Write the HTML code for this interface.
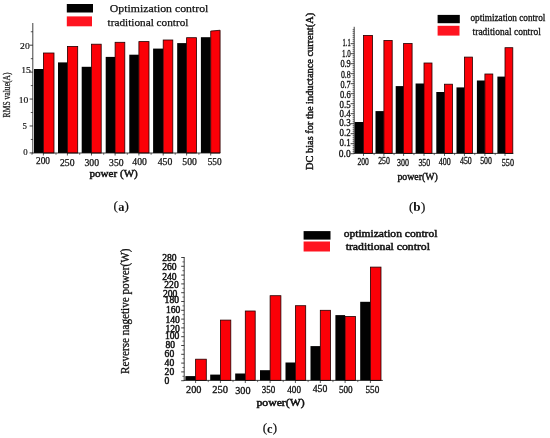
<!DOCTYPE html>
<html><head><meta charset="utf-8"><title>Figure</title>
<style>
html,body{margin:0;padding:0;background:#fff;}
svg{display:block;font-family:"Liberation Serif","DejaVu Serif",serif;}
</style></head><body>
<svg width="550" height="438" viewBox="0 0 550 438">
<rect x="0" y="0" width="550" height="438" fill="#fff"/>
<rect x="34.00" y="69.00" width="9.40" height="84.00" fill="#020202"/>
<rect x="43.40" y="53.00" width="10.60" height="100.00" fill="#fb0007" stroke="#200" stroke-width="0.8"/>
<rect x="58.00" y="62.40" width="9.40" height="90.60" fill="#020202"/>
<rect x="67.40" y="46.40" width="10.30" height="106.60" fill="#fb0007" stroke="#200" stroke-width="0.8"/>
<rect x="81.70" y="66.80" width="9.80" height="86.20" fill="#020202"/>
<rect x="91.50" y="44.20" width="9.70" height="108.80" fill="#fb0007" stroke="#200" stroke-width="0.8"/>
<rect x="105.70" y="56.90" width="9.40" height="96.10" fill="#020202"/>
<rect x="115.10" y="42.30" width="9.70" height="110.70" fill="#fb0007" stroke="#200" stroke-width="0.8"/>
<rect x="129.30" y="54.70" width="9.60" height="98.30" fill="#020202"/>
<rect x="138.90" y="41.60" width="10.10" height="111.40" fill="#fb0007" stroke="#200" stroke-width="0.8"/>
<rect x="153.10" y="48.60" width="10.10" height="104.40" fill="#020202"/>
<rect x="163.20" y="40.00" width="9.60" height="113.00" fill="#fb0007" stroke="#200" stroke-width="0.8"/>
<rect x="177.20" y="43.10" width="9.40" height="109.90" fill="#020202"/>
<rect x="186.60" y="37.70" width="9.90" height="115.30" fill="#fb0007" stroke="#200" stroke-width="0.8"/>
<rect x="200.90" y="37.20" width="9.80" height="115.80" fill="#020202"/>
<polygon points="210.70,31.05 220.10,30.25 220.10,153 210.70,153" fill="#fb0007" stroke="#200" stroke-width="0.8"/>
<line x1="32.80" y1="23.00" x2="32.80" y2="153.40" stroke="#111" stroke-width="0.8"/>
<line x1="32.40" y1="153.00" x2="220.30" y2="153.00" stroke="#111" stroke-width="0.8"/>
<line x1="29.60" y1="152.90" x2="32.80" y2="152.90" stroke="#111" stroke-width="0.8"/>
<text x="27.60" y="155.30" font-size="9" text-anchor="end" fill="#111" stroke="#111" stroke-width="0.18" textLength="4.40" lengthAdjust="spacingAndGlyphs">0</text>
<line x1="30.80" y1="139.44" x2="32.80" y2="139.44" stroke="#111" stroke-width="0.7"/>
<line x1="29.60" y1="125.98" x2="32.80" y2="125.98" stroke="#111" stroke-width="0.8"/>
<text x="26.80" y="129.20" font-size="9" text-anchor="end" fill="#111" stroke="#111" stroke-width="0.18" textLength="4.40" lengthAdjust="spacingAndGlyphs">5</text>
<line x1="30.80" y1="112.51" x2="32.80" y2="112.51" stroke="#111" stroke-width="0.7"/>
<line x1="29.60" y1="99.05" x2="32.80" y2="99.05" stroke="#111" stroke-width="0.8"/>
<text x="28.40" y="102.50" font-size="9" text-anchor="end" fill="#111" stroke="#111" stroke-width="0.18" textLength="9.60" lengthAdjust="spacingAndGlyphs">10</text>
<line x1="30.80" y1="85.59" x2="32.80" y2="85.59" stroke="#111" stroke-width="0.7"/>
<line x1="29.60" y1="72.13" x2="32.80" y2="72.13" stroke="#111" stroke-width="0.8"/>
<text x="30.80" y="73.20" font-size="9" text-anchor="end" fill="#111" stroke="#111" stroke-width="0.18" textLength="9.60" lengthAdjust="spacingAndGlyphs">15</text>
<line x1="30.80" y1="58.66" x2="32.80" y2="58.66" stroke="#111" stroke-width="0.7"/>
<line x1="29.60" y1="45.20" x2="32.80" y2="45.20" stroke="#111" stroke-width="0.8"/>
<text x="29.70" y="48.90" font-size="9" text-anchor="end" fill="#111" stroke="#111" stroke-width="0.18" textLength="9.60" lengthAdjust="spacingAndGlyphs">20</text>
<line x1="30.80" y1="31.74" x2="32.80" y2="31.74" stroke="#111" stroke-width="0.7"/>
<text x="36.00" y="164.20" font-size="9.6" text-anchor="start" fill="#111" stroke="#111" stroke-width="0.25" textLength="14.00" lengthAdjust="spacingAndGlyphs">200</text>
<text x="60.00" y="166.00" font-size="9.6" text-anchor="start" fill="#111" stroke="#111" stroke-width="0.25" textLength="14.50" lengthAdjust="spacingAndGlyphs">250</text>
<text x="84.50" y="165.50" font-size="9.6" text-anchor="start" fill="#111" stroke="#111" stroke-width="0.25" textLength="14.60" lengthAdjust="spacingAndGlyphs">300</text>
<text x="109.10" y="165.60" font-size="9.6" text-anchor="start" fill="#111" stroke="#111" stroke-width="0.25" textLength="14.50" lengthAdjust="spacingAndGlyphs">350</text>
<text x="132.30" y="164.50" font-size="9.6" text-anchor="start" fill="#111" stroke="#111" stroke-width="0.25" textLength="14.50" lengthAdjust="spacingAndGlyphs">400</text>
<text x="157.70" y="164.90" font-size="9.6" text-anchor="start" fill="#111" stroke="#111" stroke-width="0.25" textLength="14.60" lengthAdjust="spacingAndGlyphs">450</text>
<text x="182.30" y="165.10" font-size="9.6" text-anchor="start" fill="#111" stroke="#111" stroke-width="0.25" textLength="14.50" lengthAdjust="spacingAndGlyphs">500</text>
<text x="207.70" y="165.10" font-size="9.6" text-anchor="start" fill="#111" stroke="#111" stroke-width="0.25" textLength="13.90" lengthAdjust="spacingAndGlyphs">550</text>
<line x1="43.40" y1="153.00" x2="43.40" y2="155.50" stroke="#111" stroke-width="0.7"/>
<line x1="32.00" y1="153.00" x2="32.00" y2="154.80" stroke="#111" stroke-width="0.6"/>
<line x1="67.40" y1="153.00" x2="67.40" y2="155.50" stroke="#111" stroke-width="0.7"/>
<line x1="56.00" y1="153.00" x2="56.00" y2="154.80" stroke="#111" stroke-width="0.6"/>
<line x1="91.50" y1="153.00" x2="91.50" y2="155.50" stroke="#111" stroke-width="0.7"/>
<line x1="79.70" y1="153.00" x2="79.70" y2="154.80" stroke="#111" stroke-width="0.6"/>
<line x1="115.10" y1="153.00" x2="115.10" y2="155.50" stroke="#111" stroke-width="0.7"/>
<line x1="103.70" y1="153.00" x2="103.70" y2="154.80" stroke="#111" stroke-width="0.6"/>
<line x1="138.90" y1="153.00" x2="138.90" y2="155.50" stroke="#111" stroke-width="0.7"/>
<line x1="127.30" y1="153.00" x2="127.30" y2="154.80" stroke="#111" stroke-width="0.6"/>
<line x1="163.20" y1="153.00" x2="163.20" y2="155.50" stroke="#111" stroke-width="0.7"/>
<line x1="151.10" y1="153.00" x2="151.10" y2="154.80" stroke="#111" stroke-width="0.6"/>
<line x1="186.60" y1="153.00" x2="186.60" y2="155.50" stroke="#111" stroke-width="0.7"/>
<line x1="175.20" y1="153.00" x2="175.20" y2="154.80" stroke="#111" stroke-width="0.6"/>
<line x1="210.70" y1="153.00" x2="210.70" y2="155.50" stroke="#111" stroke-width="0.7"/>
<line x1="198.90" y1="153.00" x2="198.90" y2="154.80" stroke="#111" stroke-width="0.6"/>
<text x="89.50" y="176.90" font-size="9.8" text-anchor="start" fill="#111" stroke="#111" stroke-width="0.45" textLength="48.30" lengthAdjust="spacingAndGlyphs">power (W)</text>
<text x="9.70" y="117.40" font-size="9.3" text-anchor="start" fill="#222" stroke="#222" stroke-width="0.25" textLength="45.00" lengthAdjust="spacingAndGlyphs" transform="rotate(-90 9.70 117.40)">RMS value(A)</text>
<rect x="66.80" y="4.00" width="26.20" height="8.50" fill="#020202"/>
<rect x="66.80" y="16.40" width="25.20" height="9.90" fill="#ff1420"/>
<text x="109.80" y="12.00" font-size="11.3" text-anchor="start" fill="#111" stroke="#111" stroke-width="0.25" textLength="98.50" lengthAdjust="spacingAndGlyphs">Optimization control</text>
<text x="107.60" y="25.90" font-size="11" text-anchor="start" fill="#111" stroke="#111" stroke-width="0.25" textLength="80.80" lengthAdjust="spacingAndGlyphs">traditional control</text>
<text fill="#111"><tspan x="113.60" y="210.10" font-size="13" stroke="#111" stroke-width="0.2">(</tspan><tspan x="118.30" y="210.60" font-size="12.4" font-weight="bold">a</tspan><tspan x="124.60" y="210.10" font-size="13" stroke="#111" stroke-width="0.2">)</tspan></text>
<rect x="354.70" y="122.00" width="8.80" height="31.40" fill="#020202"/>
<rect x="363.50" y="35.40" width="9.00" height="118.00" fill="#fb0007" stroke="#200" stroke-width="0.8"/>
<rect x="375.50" y="111.10" width="8.40" height="42.30" fill="#020202"/>
<rect x="383.90" y="40.40" width="8.30" height="113.00" fill="#fb0007" stroke="#200" stroke-width="0.8"/>
<rect x="395.70" y="86.10" width="7.90" height="67.30" fill="#020202"/>
<rect x="403.60" y="43.50" width="8.50" height="109.90" fill="#fb0007" stroke="#200" stroke-width="0.8"/>
<rect x="415.60" y="83.50" width="8.40" height="69.90" fill="#020202"/>
<rect x="424.00" y="63.00" width="8.00" height="90.40" fill="#fb0007" stroke="#200" stroke-width="0.8"/>
<rect x="436.30" y="92.00" width="8.20" height="61.40" fill="#020202"/>
<rect x="444.50" y="84.20" width="8.00" height="69.20" fill="#fb0007" stroke="#200" stroke-width="0.8"/>
<rect x="456.50" y="87.40" width="7.90" height="66.00" fill="#020202"/>
<rect x="464.40" y="57.10" width="8.00" height="96.30" fill="#fb0007" stroke="#200" stroke-width="0.8"/>
<rect x="476.90" y="80.50" width="8.00" height="72.90" fill="#020202"/>
<rect x="484.90" y="74.00" width="7.90" height="79.40" fill="#fb0007" stroke="#200" stroke-width="0.8"/>
<rect x="497.40" y="76.60" width="7.60" height="76.80" fill="#020202"/>
<rect x="505.00" y="47.70" width="7.80" height="105.70" fill="#fb0007" stroke="#200" stroke-width="0.8"/>
<line x1="354.20" y1="26.80" x2="354.20" y2="153.80" stroke="#111" stroke-width="0.8"/>
<line x1="353.80" y1="153.40" x2="513.30" y2="153.40" stroke="#111" stroke-width="0.8"/>
<line x1="350.60" y1="153.70" x2="354.20" y2="153.70" stroke="#111" stroke-width="0.8"/>
<text x="350.70" y="156.80" font-size="9.7" text-anchor="end" fill="#111" stroke="#111" stroke-width="0.3" textLength="11.90" lengthAdjust="spacingAndGlyphs">0.0</text>
<line x1="352.60" y1="151.69" x2="354.20" y2="151.69" stroke="#111" stroke-width="0.6"/>
<line x1="352.60" y1="149.69" x2="354.20" y2="149.69" stroke="#111" stroke-width="0.6"/>
<line x1="352.60" y1="147.68" x2="354.20" y2="147.68" stroke="#111" stroke-width="0.6"/>
<line x1="352.60" y1="145.68" x2="354.20" y2="145.68" stroke="#111" stroke-width="0.6"/>
<line x1="350.60" y1="143.70" x2="354.20" y2="143.70" stroke="#111" stroke-width="0.8"/>
<text x="350.70" y="146.40" font-size="9.7" text-anchor="end" fill="#111" stroke="#111" stroke-width="0.3" textLength="11.10" lengthAdjust="spacingAndGlyphs">0.1</text>
<line x1="352.60" y1="141.69" x2="354.20" y2="141.69" stroke="#111" stroke-width="0.6"/>
<line x1="352.60" y1="139.69" x2="354.20" y2="139.69" stroke="#111" stroke-width="0.6"/>
<line x1="352.60" y1="137.68" x2="354.20" y2="137.68" stroke="#111" stroke-width="0.6"/>
<line x1="352.60" y1="135.68" x2="354.20" y2="135.68" stroke="#111" stroke-width="0.6"/>
<line x1="350.60" y1="133.70" x2="354.20" y2="133.70" stroke="#111" stroke-width="0.8"/>
<text x="350.70" y="135.70" font-size="9.7" text-anchor="end" fill="#111" stroke="#111" stroke-width="0.3" textLength="11.10" lengthAdjust="spacingAndGlyphs">0.2</text>
<line x1="352.60" y1="131.69" x2="354.20" y2="131.69" stroke="#111" stroke-width="0.6"/>
<line x1="352.60" y1="129.69" x2="354.20" y2="129.69" stroke="#111" stroke-width="0.6"/>
<line x1="352.60" y1="127.68" x2="354.20" y2="127.68" stroke="#111" stroke-width="0.6"/>
<line x1="352.60" y1="125.68" x2="354.20" y2="125.68" stroke="#111" stroke-width="0.6"/>
<line x1="350.60" y1="123.70" x2="354.20" y2="123.70" stroke="#111" stroke-width="0.8"/>
<text x="350.70" y="126.00" font-size="9.7" text-anchor="end" fill="#111" stroke="#111" stroke-width="0.3" textLength="11.40" lengthAdjust="spacingAndGlyphs">0.3</text>
<line x1="352.60" y1="121.69" x2="354.20" y2="121.69" stroke="#111" stroke-width="0.6"/>
<line x1="352.60" y1="119.69" x2="354.20" y2="119.69" stroke="#111" stroke-width="0.6"/>
<line x1="352.60" y1="117.68" x2="354.20" y2="117.68" stroke="#111" stroke-width="0.6"/>
<line x1="352.60" y1="115.68" x2="354.20" y2="115.68" stroke="#111" stroke-width="0.6"/>
<line x1="350.60" y1="113.70" x2="354.20" y2="113.70" stroke="#111" stroke-width="0.8"/>
<text x="350.70" y="116.80" font-size="9.7" text-anchor="end" fill="#111" stroke="#111" stroke-width="0.3" textLength="11.10" lengthAdjust="spacingAndGlyphs">0.4</text>
<line x1="352.60" y1="111.69" x2="354.20" y2="111.69" stroke="#111" stroke-width="0.6"/>
<line x1="352.60" y1="109.69" x2="354.20" y2="109.69" stroke="#111" stroke-width="0.6"/>
<line x1="352.60" y1="107.68" x2="354.20" y2="107.68" stroke="#111" stroke-width="0.6"/>
<line x1="352.60" y1="105.68" x2="354.20" y2="105.68" stroke="#111" stroke-width="0.6"/>
<line x1="350.60" y1="103.70" x2="354.20" y2="103.70" stroke="#111" stroke-width="0.8"/>
<text x="350.70" y="107.70" font-size="9.7" text-anchor="end" fill="#111" stroke="#111" stroke-width="0.3" textLength="11.10" lengthAdjust="spacingAndGlyphs">0.5</text>
<line x1="352.60" y1="101.69" x2="354.20" y2="101.69" stroke="#111" stroke-width="0.6"/>
<line x1="352.60" y1="99.69" x2="354.20" y2="99.69" stroke="#111" stroke-width="0.6"/>
<line x1="352.60" y1="97.68" x2="354.20" y2="97.68" stroke="#111" stroke-width="0.6"/>
<line x1="352.60" y1="95.68" x2="354.20" y2="95.68" stroke="#111" stroke-width="0.6"/>
<line x1="350.60" y1="93.70" x2="354.20" y2="93.70" stroke="#111" stroke-width="0.8"/>
<text x="350.70" y="97.70" font-size="9.7" text-anchor="end" fill="#111" stroke="#111" stroke-width="0.3" textLength="10.70" lengthAdjust="spacingAndGlyphs">0.6</text>
<line x1="352.60" y1="91.69" x2="354.20" y2="91.69" stroke="#111" stroke-width="0.6"/>
<line x1="352.60" y1="89.69" x2="354.20" y2="89.69" stroke="#111" stroke-width="0.6"/>
<line x1="352.60" y1="87.68" x2="354.20" y2="87.68" stroke="#111" stroke-width="0.6"/>
<line x1="352.60" y1="85.68" x2="354.20" y2="85.68" stroke="#111" stroke-width="0.6"/>
<line x1="350.60" y1="83.70" x2="354.20" y2="83.70" stroke="#111" stroke-width="0.8"/>
<text x="350.70" y="87.70" font-size="9.7" text-anchor="end" fill="#111" stroke="#111" stroke-width="0.3" textLength="10.30" lengthAdjust="spacingAndGlyphs">0.7</text>
<line x1="352.60" y1="81.69" x2="354.20" y2="81.69" stroke="#111" stroke-width="0.6"/>
<line x1="352.60" y1="79.69" x2="354.20" y2="79.69" stroke="#111" stroke-width="0.6"/>
<line x1="352.60" y1="77.68" x2="354.20" y2="77.68" stroke="#111" stroke-width="0.6"/>
<line x1="352.60" y1="75.68" x2="354.20" y2="75.68" stroke="#111" stroke-width="0.6"/>
<line x1="350.60" y1="73.70" x2="354.20" y2="73.70" stroke="#111" stroke-width="0.8"/>
<text x="350.70" y="77.80" font-size="9.7" text-anchor="end" fill="#111" stroke="#111" stroke-width="0.3" textLength="9.80" lengthAdjust="spacingAndGlyphs">0.8</text>
<line x1="352.60" y1="71.69" x2="354.20" y2="71.69" stroke="#111" stroke-width="0.6"/>
<line x1="352.60" y1="69.69" x2="354.20" y2="69.69" stroke="#111" stroke-width="0.6"/>
<line x1="352.60" y1="67.68" x2="354.20" y2="67.68" stroke="#111" stroke-width="0.6"/>
<line x1="352.60" y1="65.68" x2="354.20" y2="65.68" stroke="#111" stroke-width="0.6"/>
<line x1="350.60" y1="63.70" x2="354.20" y2="63.70" stroke="#111" stroke-width="0.8"/>
<text x="350.70" y="66.90" font-size="9.7" text-anchor="end" fill="#111" stroke="#111" stroke-width="0.3" textLength="10.30" lengthAdjust="spacingAndGlyphs">0.9</text>
<line x1="352.60" y1="61.69" x2="354.20" y2="61.69" stroke="#111" stroke-width="0.6"/>
<line x1="352.60" y1="59.69" x2="354.20" y2="59.69" stroke="#111" stroke-width="0.6"/>
<line x1="352.60" y1="57.68" x2="354.20" y2="57.68" stroke="#111" stroke-width="0.6"/>
<line x1="352.60" y1="55.68" x2="354.20" y2="55.68" stroke="#111" stroke-width="0.6"/>
<line x1="350.60" y1="53.70" x2="354.20" y2="53.70" stroke="#111" stroke-width="0.8"/>
<text x="350.70" y="57.00" font-size="9.7" text-anchor="end" fill="#111" stroke="#111" stroke-width="0.3" textLength="8.70" lengthAdjust="spacingAndGlyphs">1.0</text>
<line x1="352.60" y1="51.69" x2="354.20" y2="51.69" stroke="#111" stroke-width="0.6"/>
<line x1="352.60" y1="49.69" x2="354.20" y2="49.69" stroke="#111" stroke-width="0.6"/>
<line x1="352.60" y1="47.68" x2="354.20" y2="47.68" stroke="#111" stroke-width="0.6"/>
<line x1="352.60" y1="45.68" x2="354.20" y2="45.68" stroke="#111" stroke-width="0.6"/>
<line x1="350.60" y1="43.70" x2="354.20" y2="43.70" stroke="#111" stroke-width="0.8"/>
<text x="350.70" y="45.80" font-size="9.7" text-anchor="end" fill="#111" stroke="#111" stroke-width="0.3" textLength="8.20" lengthAdjust="spacingAndGlyphs">1.1</text>
<line x1="352.60" y1="41.69" x2="354.20" y2="41.69" stroke="#111" stroke-width="0.6"/>
<line x1="352.60" y1="39.69" x2="354.20" y2="39.69" stroke="#111" stroke-width="0.6"/>
<line x1="352.60" y1="37.68" x2="354.20" y2="37.68" stroke="#111" stroke-width="0.6"/>
<line x1="352.60" y1="35.68" x2="354.20" y2="35.68" stroke="#111" stroke-width="0.6"/>
<line x1="352.60" y1="33.67" x2="354.20" y2="33.67" stroke="#111" stroke-width="0.6"/>
<line x1="352.60" y1="31.66" x2="354.20" y2="31.66" stroke="#111" stroke-width="0.6"/>
<line x1="352.60" y1="29.66" x2="354.20" y2="29.66" stroke="#111" stroke-width="0.6"/>
<text x="357.50" y="165.00" font-size="9.9" text-anchor="start" fill="#111" stroke="#111" stroke-width="0.3" textLength="11.40" lengthAdjust="spacingAndGlyphs">200</text>
<text x="378.20" y="164.20" font-size="9.9" text-anchor="start" fill="#111" stroke="#111" stroke-width="0.3" textLength="11.80" lengthAdjust="spacingAndGlyphs">250</text>
<text x="397.00" y="166.00" font-size="9.9" text-anchor="start" fill="#111" stroke="#111" stroke-width="0.3" textLength="12.00" lengthAdjust="spacingAndGlyphs">300</text>
<text x="418.40" y="165.60" font-size="9.9" text-anchor="start" fill="#111" stroke="#111" stroke-width="0.3" textLength="11.80" lengthAdjust="spacingAndGlyphs">350</text>
<text x="438.80" y="165.00" font-size="9.9" text-anchor="start" fill="#111" stroke="#111" stroke-width="0.3" textLength="12.00" lengthAdjust="spacingAndGlyphs">400</text>
<text x="460.00" y="164.20" font-size="9.9" text-anchor="start" fill="#111" stroke="#111" stroke-width="0.3" textLength="11.80" lengthAdjust="spacingAndGlyphs">450</text>
<text x="480.20" y="164.20" font-size="9.9" text-anchor="start" fill="#111" stroke="#111" stroke-width="0.3" textLength="11.80" lengthAdjust="spacingAndGlyphs">500</text>
<text x="501.80" y="165.60" font-size="9.9" text-anchor="start" fill="#111" stroke="#111" stroke-width="0.3" textLength="12.20" lengthAdjust="spacingAndGlyphs">550</text>
<line x1="363.50" y1="153.40" x2="363.50" y2="155.90" stroke="#111" stroke-width="0.7"/>
<line x1="374.10" y1="153.40" x2="374.10" y2="155.10" stroke="#111" stroke-width="0.6"/>
<line x1="383.90" y1="153.40" x2="383.90" y2="155.90" stroke="#111" stroke-width="0.7"/>
<line x1="394.05" y1="153.40" x2="394.05" y2="155.10" stroke="#111" stroke-width="0.6"/>
<line x1="403.60" y1="153.40" x2="403.60" y2="155.90" stroke="#111" stroke-width="0.7"/>
<line x1="413.95" y1="153.40" x2="413.95" y2="155.10" stroke="#111" stroke-width="0.6"/>
<line x1="424.00" y1="153.40" x2="424.00" y2="155.90" stroke="#111" stroke-width="0.7"/>
<line x1="434.25" y1="153.40" x2="434.25" y2="155.10" stroke="#111" stroke-width="0.6"/>
<line x1="444.50" y1="153.40" x2="444.50" y2="155.90" stroke="#111" stroke-width="0.7"/>
<line x1="454.60" y1="153.40" x2="454.60" y2="155.10" stroke="#111" stroke-width="0.6"/>
<line x1="464.40" y1="153.40" x2="464.40" y2="155.90" stroke="#111" stroke-width="0.7"/>
<line x1="474.75" y1="153.40" x2="474.75" y2="155.10" stroke="#111" stroke-width="0.6"/>
<line x1="484.90" y1="153.40" x2="484.90" y2="155.90" stroke="#111" stroke-width="0.7"/>
<line x1="495.20" y1="153.40" x2="495.20" y2="155.10" stroke="#111" stroke-width="0.6"/>
<line x1="505.00" y1="153.40" x2="505.00" y2="155.90" stroke="#111" stroke-width="0.7"/>
<text x="397.40" y="180.20" font-size="9.4" text-anchor="start" fill="#111" stroke="#111" stroke-width="0.4" textLength="40.40" lengthAdjust="spacingAndGlyphs">power(W)</text>
<text x="313.30" y="169.90" font-size="10" text-anchor="start" fill="#111" stroke="#111" stroke-width="0.42" textLength="157.00" lengthAdjust="spacingAndGlyphs" transform="rotate(-90 313.30 169.90)">DC bias for the inductance current(A)</text>
<rect x="437.60" y="14.90" width="22.20" height="8.30" fill="#020202"/>
<rect x="437.60" y="25.80" width="21.90" height="9.80" fill="#ff1420"/>
<text x="470.50" y="21.00" font-size="9.8" text-anchor="start" fill="#111" stroke="#111" stroke-width="0.3" textLength="74.80" lengthAdjust="spacingAndGlyphs">optimization control</text>
<text x="472.60" y="34.50" font-size="9.8" text-anchor="start" fill="#111" stroke="#111" stroke-width="0.3" textLength="68.20" lengthAdjust="spacingAndGlyphs">traditional control</text>
<text fill="#111"><tspan x="408.90" y="210.70" font-size="13" stroke="#111" stroke-width="0.2">(</tspan><tspan x="413.30" y="211.20" font-size="13.2" font-weight="bold">b</tspan><tspan x="421.10" y="210.70" font-size="13" stroke="#111" stroke-width="0.2">)</tspan></text>
<rect x="185.40" y="376.10" width="10.20" height="4.30" fill="#020202"/>
<rect x="195.60" y="359.20" width="10.70" height="21.20" fill="#fb0007" stroke="#200" stroke-width="0.8"/>
<rect x="210.20" y="374.60" width="10.20" height="5.80" fill="#020202"/>
<rect x="220.40" y="320.10" width="10.40" height="60.30" fill="#fb0007" stroke="#200" stroke-width="0.8"/>
<rect x="235.20" y="373.50" width="10.10" height="6.90" fill="#020202"/>
<rect x="245.30" y="311.00" width="9.90" height="69.40" fill="#fb0007" stroke="#200" stroke-width="0.8"/>
<rect x="260.00" y="370.20" width="10.10" height="10.20" fill="#020202"/>
<rect x="270.10" y="295.70" width="10.80" height="84.70" fill="#fb0007" stroke="#200" stroke-width="0.8"/>
<rect x="285.50" y="362.50" width="9.90" height="17.90" fill="#020202"/>
<rect x="295.40" y="305.70" width="10.30" height="74.70" fill="#fb0007" stroke="#200" stroke-width="0.8"/>
<rect x="310.50" y="346.10" width="9.80" height="34.30" fill="#020202"/>
<rect x="320.30" y="310.30" width="10.20" height="70.10" fill="#fb0007" stroke="#200" stroke-width="0.8"/>
<rect x="335.40" y="315.10" width="9.70" height="65.30" fill="#020202"/>
<rect x="345.10" y="316.50" width="10.30" height="63.90" fill="#fb0007" stroke="#200" stroke-width="0.8"/>
<rect x="360.20" y="301.80" width="10.20" height="78.60" fill="#020202"/>
<rect x="370.40" y="267.10" width="10.60" height="113.30" fill="#fb0007" stroke="#200" stroke-width="0.8"/>
<line x1="184.20" y1="257.00" x2="184.20" y2="380.80" stroke="#111" stroke-width="0.8"/>
<line x1="183.80" y1="380.40" x2="382.90" y2="380.40" stroke="#111" stroke-width="0.8"/>
<line x1="181.20" y1="380.70" x2="184.20" y2="380.70" stroke="#111" stroke-width="0.8"/>
<text x="164.60" y="383.50" font-size="9.6" text-anchor="start" fill="#111" stroke="#111" stroke-width="0.45">0</text>
<line x1="182.40" y1="376.30" x2="184.20" y2="376.30" stroke="#111" stroke-width="0.6"/>
<line x1="181.20" y1="371.90" x2="184.20" y2="371.90" stroke="#111" stroke-width="0.8"/>
<text x="164.60" y="374.50" font-size="9.6" text-anchor="start" fill="#111" stroke="#111" stroke-width="0.45">20</text>
<line x1="182.40" y1="367.50" x2="184.20" y2="367.50" stroke="#111" stroke-width="0.6"/>
<line x1="181.20" y1="363.10" x2="184.20" y2="363.10" stroke="#111" stroke-width="0.8"/>
<text x="164.60" y="365.90" font-size="9.6" text-anchor="start" fill="#111" stroke="#111" stroke-width="0.45">40</text>
<line x1="182.40" y1="358.70" x2="184.20" y2="358.70" stroke="#111" stroke-width="0.6"/>
<line x1="181.20" y1="354.30" x2="184.20" y2="354.30" stroke="#111" stroke-width="0.8"/>
<text x="164.60" y="357.00" font-size="9.6" text-anchor="start" fill="#111" stroke="#111" stroke-width="0.45">60</text>
<line x1="182.40" y1="349.90" x2="184.20" y2="349.90" stroke="#111" stroke-width="0.6"/>
<line x1="181.20" y1="345.50" x2="184.20" y2="345.50" stroke="#111" stroke-width="0.8"/>
<text x="165.40" y="348.10" font-size="9.6" text-anchor="start" fill="#111" stroke="#111" stroke-width="0.45">80</text>
<line x1="182.40" y1="341.10" x2="184.20" y2="341.10" stroke="#111" stroke-width="0.6"/>
<line x1="181.20" y1="336.70" x2="184.20" y2="336.70" stroke="#111" stroke-width="0.8"/>
<text x="164.90" y="339.00" font-size="9.6" text-anchor="start" fill="#111" stroke="#111" stroke-width="0.45">100</text>
<line x1="182.40" y1="332.30" x2="184.20" y2="332.30" stroke="#111" stroke-width="0.6"/>
<line x1="181.20" y1="327.90" x2="184.20" y2="327.90" stroke="#111" stroke-width="0.8"/>
<text x="165.40" y="331.80" font-size="9.6" text-anchor="start" fill="#111" stroke="#111" stroke-width="0.45">120</text>
<line x1="182.40" y1="323.50" x2="184.20" y2="323.50" stroke="#111" stroke-width="0.6"/>
<line x1="181.20" y1="319.10" x2="184.20" y2="319.10" stroke="#111" stroke-width="0.8"/>
<text x="165.40" y="323.00" font-size="9.6" text-anchor="start" fill="#111" stroke="#111" stroke-width="0.45">140</text>
<line x1="182.40" y1="314.70" x2="184.20" y2="314.70" stroke="#111" stroke-width="0.6"/>
<line x1="181.20" y1="310.30" x2="184.20" y2="310.30" stroke="#111" stroke-width="0.8"/>
<text x="165.90" y="312.70" font-size="9.6" text-anchor="start" fill="#111" stroke="#111" stroke-width="0.45">160</text>
<line x1="182.40" y1="305.90" x2="184.20" y2="305.90" stroke="#111" stroke-width="0.6"/>
<line x1="181.20" y1="301.50" x2="184.20" y2="301.50" stroke="#111" stroke-width="0.8"/>
<text x="164.60" y="303.30" font-size="9.6" text-anchor="start" fill="#111" stroke="#111" stroke-width="0.45">180</text>
<line x1="182.40" y1="297.10" x2="184.20" y2="297.10" stroke="#111" stroke-width="0.6"/>
<line x1="181.20" y1="292.70" x2="184.20" y2="292.70" stroke="#111" stroke-width="0.8"/>
<text x="163.00" y="296.70" font-size="9.6" text-anchor="start" fill="#111" stroke="#111" stroke-width="0.45">200</text>
<line x1="182.40" y1="288.30" x2="184.20" y2="288.30" stroke="#111" stroke-width="0.6"/>
<line x1="181.20" y1="283.90" x2="184.20" y2="283.90" stroke="#111" stroke-width="0.8"/>
<text x="164.30" y="288.00" font-size="9.6" text-anchor="start" fill="#111" stroke="#111" stroke-width="0.45">220</text>
<line x1="182.40" y1="279.50" x2="184.20" y2="279.50" stroke="#111" stroke-width="0.6"/>
<line x1="181.20" y1="275.10" x2="184.20" y2="275.10" stroke="#111" stroke-width="0.8"/>
<text x="162.20" y="279.60" font-size="9.6" text-anchor="start" fill="#111" stroke="#111" stroke-width="0.45">240</text>
<line x1="182.40" y1="270.70" x2="184.20" y2="270.70" stroke="#111" stroke-width="0.6"/>
<line x1="181.20" y1="266.30" x2="184.20" y2="266.30" stroke="#111" stroke-width="0.8"/>
<text x="162.20" y="270.00" font-size="9.6" text-anchor="start" fill="#111" stroke="#111" stroke-width="0.45">260</text>
<line x1="182.40" y1="261.90" x2="184.20" y2="261.90" stroke="#111" stroke-width="0.6"/>
<line x1="181.20" y1="257.50" x2="184.20" y2="257.50" stroke="#111" stroke-width="0.8"/>
<text x="162.20" y="260.90" font-size="9.6" text-anchor="start" fill="#111" stroke="#111" stroke-width="0.45">280</text>
<text x="186.10" y="393.30" font-size="9.8" text-anchor="start" fill="#111" stroke="#111" stroke-width="0.3" textLength="15.40" lengthAdjust="spacingAndGlyphs">200</text>
<text x="212.20" y="392.60" font-size="9.8" text-anchor="start" fill="#111" stroke="#111" stroke-width="0.3" textLength="15.80" lengthAdjust="spacingAndGlyphs">250</text>
<text x="235.20" y="394.00" font-size="9.8" text-anchor="start" fill="#111" stroke="#111" stroke-width="0.3" textLength="15.30" lengthAdjust="spacingAndGlyphs">300</text>
<text x="261.80" y="393.00" font-size="9.8" text-anchor="start" fill="#111" stroke="#111" stroke-width="0.3" textLength="13.50" lengthAdjust="spacingAndGlyphs">350</text>
<text x="287.30" y="393.00" font-size="9.8" text-anchor="start" fill="#111" stroke="#111" stroke-width="0.3" textLength="13.70" lengthAdjust="spacingAndGlyphs">400</text>
<text x="312.70" y="392.20" font-size="9.8" text-anchor="start" fill="#111" stroke="#111" stroke-width="0.3" textLength="14.60" lengthAdjust="spacingAndGlyphs">450</text>
<text x="338.90" y="392.60" font-size="9.8" text-anchor="start" fill="#111" stroke="#111" stroke-width="0.3" textLength="13.80" lengthAdjust="spacingAndGlyphs">500</text>
<text x="365.50" y="393.30" font-size="9.8" text-anchor="start" fill="#111" stroke="#111" stroke-width="0.3" textLength="13.80" lengthAdjust="spacingAndGlyphs">550</text>
<line x1="195.60" y1="380.40" x2="195.60" y2="383.00" stroke="#111" stroke-width="0.7"/>
<line x1="208.25" y1="380.40" x2="208.25" y2="382.10" stroke="#111" stroke-width="0.6"/>
<line x1="220.40" y1="380.40" x2="220.40" y2="383.00" stroke="#111" stroke-width="0.7"/>
<line x1="233.00" y1="380.40" x2="233.00" y2="382.10" stroke="#111" stroke-width="0.6"/>
<line x1="245.30" y1="380.40" x2="245.30" y2="383.00" stroke="#111" stroke-width="0.7"/>
<line x1="257.60" y1="380.40" x2="257.60" y2="382.10" stroke="#111" stroke-width="0.6"/>
<line x1="270.10" y1="380.40" x2="270.10" y2="383.00" stroke="#111" stroke-width="0.7"/>
<line x1="283.20" y1="380.40" x2="283.20" y2="382.10" stroke="#111" stroke-width="0.6"/>
<line x1="295.40" y1="380.40" x2="295.40" y2="383.00" stroke="#111" stroke-width="0.7"/>
<line x1="308.10" y1="380.40" x2="308.10" y2="382.10" stroke="#111" stroke-width="0.6"/>
<line x1="320.30" y1="380.40" x2="320.30" y2="383.00" stroke="#111" stroke-width="0.7"/>
<line x1="332.95" y1="380.40" x2="332.95" y2="382.10" stroke="#111" stroke-width="0.6"/>
<line x1="345.10" y1="380.40" x2="345.10" y2="383.00" stroke="#111" stroke-width="0.7"/>
<line x1="357.80" y1="380.40" x2="357.80" y2="382.10" stroke="#111" stroke-width="0.6"/>
<line x1="370.40" y1="380.40" x2="370.40" y2="383.00" stroke="#111" stroke-width="0.7"/>
<text x="256.40" y="406.20" font-size="10.4" text-anchor="start" fill="#111" stroke="#111" stroke-width="0.5" textLength="48.30" lengthAdjust="spacingAndGlyphs">power(W)</text>
<text x="128.60" y="374.00" font-size="12" text-anchor="start" fill="#111" stroke="#111" stroke-width="0.3" textLength="125.50" lengthAdjust="spacingAndGlyphs" transform="rotate(-90 128.60 374.00)">Reverse nagetive power(W)</text>
<rect x="303.60" y="231.10" width="26.90" height="8.50" fill="#020202"/>
<rect x="303.60" y="241.50" width="26.40" height="10.00" fill="#ff1420"/>
<text x="343.70" y="237.00" font-size="11" text-anchor="start" fill="#111" stroke="#111" stroke-width="0.5" textLength="93.70" lengthAdjust="spacingAndGlyphs">optimization control</text>
<text x="345.70" y="250.10" font-size="11" text-anchor="start" fill="#111" stroke="#111" stroke-width="0.5" textLength="84.30" lengthAdjust="spacingAndGlyphs">traditional control</text>
<text fill="#111"><tspan x="262.70" y="432.40" font-size="13" stroke="#111" stroke-width="0.2">(</tspan><tspan x="267.10" y="432.90" font-size="12.4" font-weight="bold">c</tspan><tspan x="272.80" y="432.40" font-size="13" stroke="#111" stroke-width="0.2">)</tspan></text>
</svg>
</body></html>
